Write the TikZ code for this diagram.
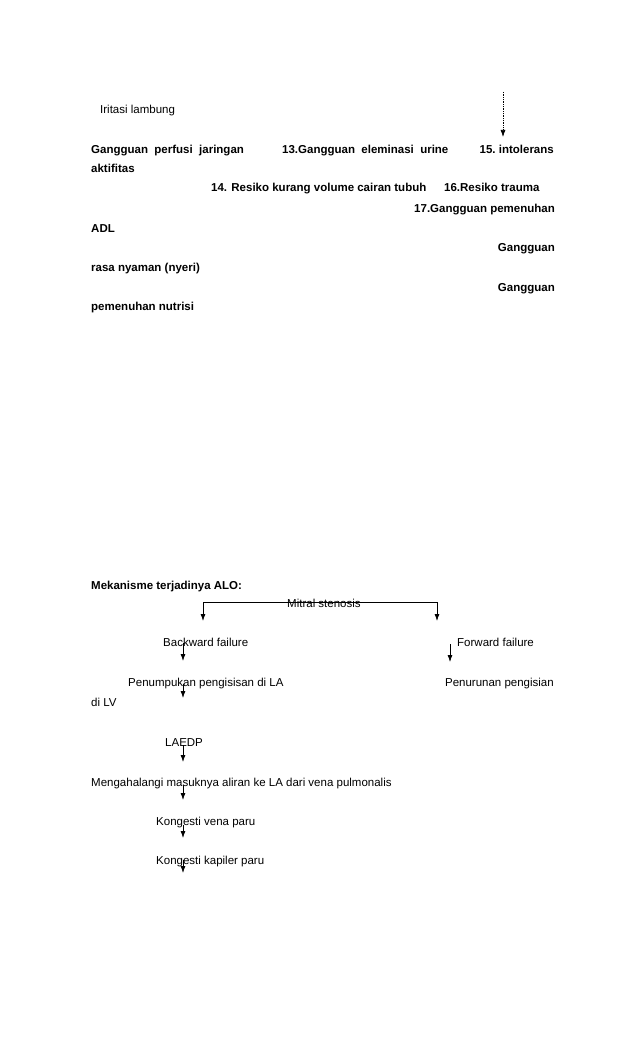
\documentclass[tikz,border=0pt]{standalone}
\usepackage{fontspec}
\setmainfont{Liberation Sans}
\usepackage{tikz}
\usetikzlibrary{arrows.meta}

\begin{document}
\begin{tikzpicture}[x=1pt,y=-1pt,
  txt/.style={inner sep=0pt, anchor=base west, font=\fontsize{11.5}{13}\selectfont},
  btxt/.style={txt, font=\fontsize{11.5}{13}\selectfont\bfseries},
  rbtxt/.style={btxt, anchor=base east},
  rtxt/.style={txt, anchor=base east},
  arr/.style={-{Latex[length=7pt,width=5pt]}, line width=0.75pt}]

  % Page frame
  \useasboundingbox (0,0) rectangle (638,1051);

  % Draw the upper list
  \node[txt]   (iritasi) at (100,114) {Iritasi lambung};
  \coordinate (dot-s) at (503,92);
  \coordinate (dot-e) at (503,137);
  \draw[arr, densely dotted] (dot-s) -- (dot-e);

  \node[btxt]  (perfusi)  at (91,154)  {Gangguan\ \ perfusi\ \ jaringan};
  \node[btxt]  (urine)    at (282,154) {13.Gangguan\ \ eleminasi\ \ urine};
  \node[rbtxt] (intol)    at (554,154) {15.\ intolerans};
  \node[btxt]  (aktif)    at (91,173)  {aktifitas};
  \node[btxt]  (cairan)   at (211,192) {14. Resiko kurang volume cairan tubuh};
  \node[btxt]  (trauma)   at (444,192) {16.Resiko trauma};
  \node[rbtxt] (adl1)     at (555,212) {17.Gangguan pemenuhan};
  \node[btxt]  (adl2)     at (91,232)  {ADL};
  \node[rbtxt] (nyeri1)   at (555,251) {Gangguan};
  \node[btxt]  (nyeri2)   at (91,271)  {rasa nyaman (nyeri)};
  \node[rbtxt] (nutrisi1) at (555,291) {Gangguan};
  \node[btxt]  (nutrisi2) at (91,310)  {pemenuhan nutrisi};

  % Draw the ALO chain
  \node[btxt] (judul)  at (91,589)  {Mekanisme terjadinya ALO:};
  \node[txt]  (mitral) at (287,607) {Mitral stenosis};
  \coordinate (ms-l)  at (203,602);
  \coordinate (ms-r)  at (437,602);
  \coordinate (ms-le) at (203,621);
  \coordinate (ms-re) at (437,621);
  \draw[arr] (ms-r) -- (ms-l) -- (ms-le);
  \draw[arr] (ms-r) -- (ms-re);

  \node[txt]  (backward) at (163,646) {Backward failure};
  \node[txt]  (forward)  at (457,646) {Forward failure};
  \node[txt]  (penumpuk) at (128,686) {Penumpukan pengisisan di LA};
  \node[rtxt] (penurun)  at (554,686) {Penurunan pengisian};
  \node[txt]  (dilv)     at (91,706)  {di LV};
  \node[txt]  (laedp)    at (165,746) {LAEDP};
  \node[txt]  (halang)   at (91,786)  {Mengahalangi masuknya aliran ke LA dari vena pulmonalis};
  \node[txt]  (vena)     at (156,825) {Kongesti vena paru};
  \node[txt]  (kapiler)  at (156,864) {Kongesti kapiler paru};

  \coordinate (fw-s) at (450,644);
  \coordinate (fw-e) at (450,662);
  \draw[arr] (fw-s) -- (fw-e);

  % Draw the arrows down the left column
  \foreach \n/\a/\b in {1/643/661, 2/684/698, 3/745/762, 4/785/800, 5/825/838, 6/860/873}
  {
    \coordinate (s\n) at (183,\a);
    \coordinate (e\n) at (183,\b);
    \draw[arr] (s\n) -- (e\n);
  }

\end{tikzpicture}
\end{document}
